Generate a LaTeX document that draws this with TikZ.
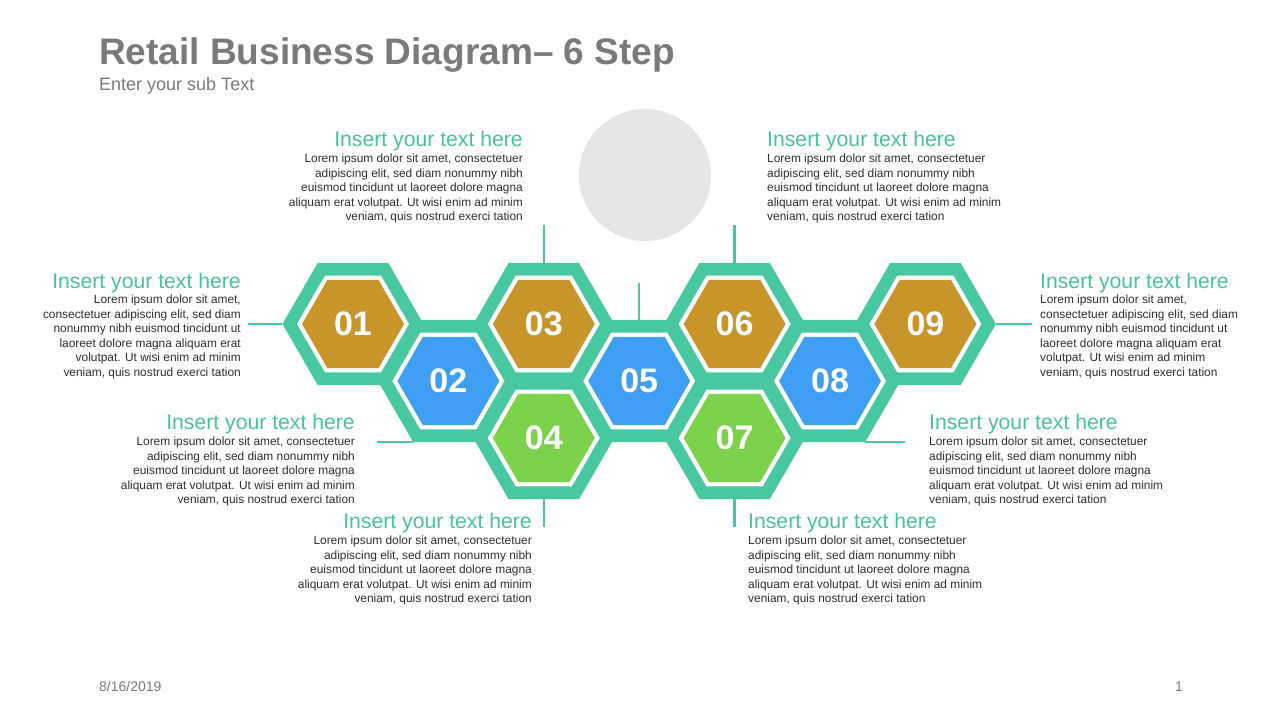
\documentclass[tikz,border=0pt]{standalone}
\usepackage{fontspec}
\setmainfont{Liberation Sans}
\usetikzlibrary{shapes.geometric}
\definecolor{tealc}{HTML}{48C8A0}
\definecolor{headc}{HTML}{48C2A0}
\definecolor{goldc}{HTML}{C8952A}
\definecolor{bluec}{HTML}{3FA0F3}
\definecolor{greenc}{HTML}{7DD24B}
\definecolor{titlec}{HTML}{7A7A7A}
\definecolor{bodyc}{HTML}{2E2E2E}
\definecolor{circc}{HTML}{E6E6E6}
\newcommand\loremA{Lorem ipsum dolor sit amet, consectetuer\\adipiscing elit, sed diam nonummy nibh\\euismod tincidunt ut laoreet dolore magna\\aliquam erat volutpat. Ut wisi enim ad minim\\veniam, quis nostrud exerci tation}
\newcommand\loremB{Lorem ipsum dolor sit amet,\\consectetuer adipiscing elit, sed diam\\nonummy nibh euismod tincidunt ut\\laoreet dolore magna aliquam erat\\volutpat. Ut wisi enim ad minim\\veniam, quis nostrud exerci tation}
\tikzset{
  hexbase/.style={regular polygon, regular polygon sides=6, inner sep=0pt, outer sep=0pt, draw=none},
  tealhex/.style={hexbase, fill=tealc, minimum size=141pt},
  whitehex/.style={hexbase, fill=white, minimum size=112pt},
  colhex/.style={hexbase, minimum size=102pt, text=white, font=\fontsize{34}{34}\selectfont\bfseries},
  heading/.style={inner sep=0pt, text=headc, font=\fontsize{21.2}{24}\selectfont},
  bodytext/.style={inner sep=0pt, text=bodyc, font=\fontsize{11.9}{14.5}\selectfont},
  conn/.style={draw=tealc, line width=2.5pt},
}
\begin{document}
\begin{tikzpicture}[x=1pt,y=-1pt]
\useasboundingbox[fill=white] (0,0) rectangle (1280,719);
% title
\node[anchor=base west, inner sep=0pt, text=titlec, font=\fontsize{37}{40}\selectfont\bfseries] (title) at (99,65) {Retail Business Diagram– 6 Step};
\node[anchor=base west, inner sep=0pt, text=titlec, font=\fontsize{18}{20}\selectfont] (sub) at (99,90.5) {Enter your sub Text};
% circle
\node[circle, fill=circc, minimum size=132pt, inner sep=0pt] (circ) at (645,175) {};
% hexagons
\foreach \n/\x/\y in {1/353/324, 2/448.4/381, 3/543.8/324, 4/543.8/438, 5/639.2/381, 6/734.6/324, 7/734.6/438, 8/830/381, 9/925.4/324}
  \node[tealhex] (t\n) at (\x,\y) {};
\foreach \n/\x/\y in {1/353/324, 2/448.4/381, 3/543.8/324, 4/543.8/438, 5/639.2/381, 6/734.6/324, 7/734.6/438, 8/830/381, 9/925.4/324}
  \node[whitehex] (w\n) at (\x,\y) {};
\foreach \n/\x/\y/\c in {1/353/324/goldc, 2/448.4/381/bluec, 3/543.8/324/goldc, 4/543.8/438/greenc, 5/639.2/381/bluec, 6/734.6/324/goldc, 7/734.6/438/greenc, 8/830/381/bluec, 9/925.4/324/goldc}
  \node[colhex, fill=\c] (h\n) at (\x,\y) {0\n};
% connector free ends
\coordinate (eTL) at (543.8,225);
\coordinate (eTR) at (734.6,225);
\coordinate (eL) at (248,324);
\coordinate (eR) at (1032,324);
\coordinate (eLL) at (377,440);
\coordinate (eLR) at (905,440);
\coordinate (eBL) at (543.8,527);
\coordinate (eBR) at (734.6,527);
\coordinate (eC) at (639.2,283);
\draw[conn] (t3.north) -- (eTL);
\draw[conn] (t6.north) -- (eTR);
\draw[conn] (t5.north) -- (eC);
\draw[conn] (t1.west) -- (eL);
\draw[conn] (t9.east) -- (eR);
\draw[conn] (t2.240) -- (t2.240 -| eLL);
\draw[conn] (t8.300) -- (t8.300 -| eLR);
\draw[conn] (t4.south) -- (eBL);
\draw[conn] (t7.south) -- (eBR);
% text blocks
\node[heading, anchor=base east] (hTL) at (523,146.6) {Insert your text here};
\node[bodytext, anchor=north east, align=right] (bTL) at (523,153.7) {\loremA};
\node[heading, anchor=base west] (hTR) at (767,146.6) {Insert your text here};
\node[bodytext, anchor=north west, align=left] (bTR) at (767,153.7) {\loremA};
\node[heading, anchor=base east] (hL) at (241,288.6) {Insert your text here};
\node[bodytext, anchor=north east, align=right] (bL) at (241,294.7) {\loremB};
\node[heading, anchor=base west] (hR) at (1040,288.6) {Insert your text here};
\node[bodytext, anchor=north west, align=left] (bR) at (1040,294.7) {\loremB};
\node[heading, anchor=base east] (hLL) at (355,429.6) {Insert your text here};
\node[bodytext, anchor=north east, align=right] (bLL) at (355,436.7) {\loremA};
\node[heading, anchor=base west] (hLR) at (929,429.6) {Insert your text here};
\node[bodytext, anchor=north west, align=left] (bLR) at (929,436.7) {\loremA};
\node[heading, anchor=base east] (hBL) at (532,528.6) {Insert your text here};
\node[bodytext, anchor=north east, align=right] (bBL) at (532,535.7) {\loremA};
\node[heading, anchor=base west] (hBR) at (748,528.6) {Insert your text here};
\node[bodytext, anchor=north west, align=left] (bBR) at (748,535.7) {\loremA};
% footer
\node[anchor=base west, inner sep=0pt, text=titlec, font=\fontsize{14}{16}\selectfont] (date) at (99,691) {8/16/2019};
\node[anchor=base east, inner sep=0pt, text=titlec, font=\fontsize{14}{16}\selectfont] (pg) at (1183,691) {1};
\end{tikzpicture}
\end{document}
